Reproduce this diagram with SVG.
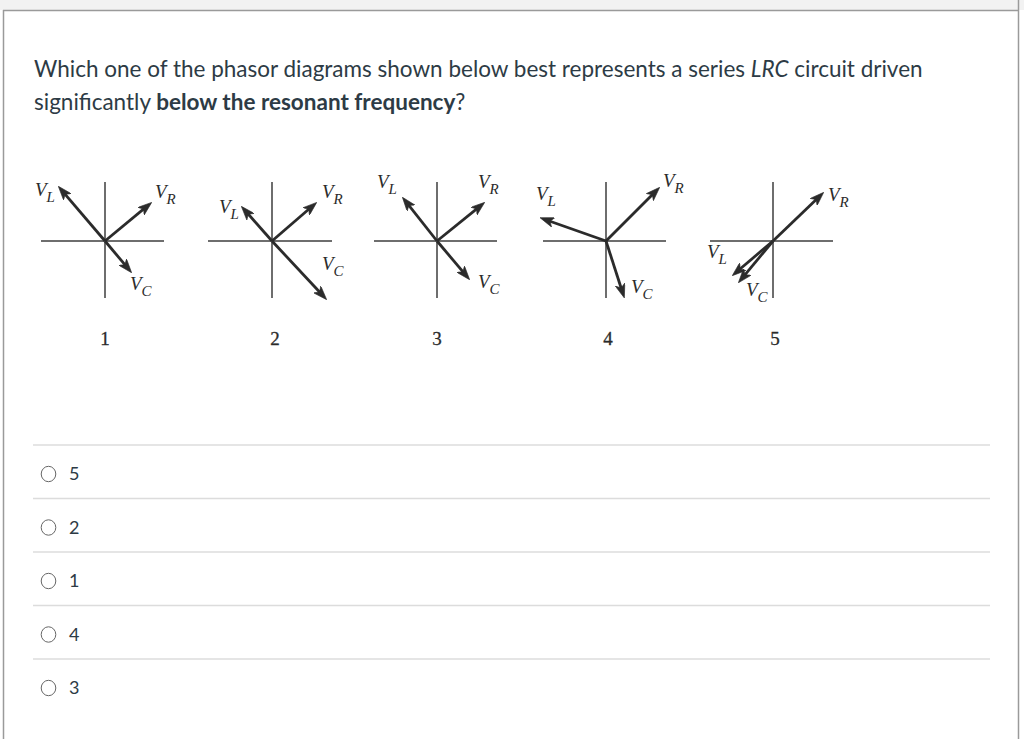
<svg xmlns="http://www.w3.org/2000/svg" width="1024" height="739" viewBox="0 0 1024 739">
<defs>
<marker id="ah" viewBox="0 0 14 10" markerWidth="14" markerHeight="10" markerUnits="userSpaceOnUse" refX="8" refY="5" orient="auto">
<path d="M0,0 L14,5 L0,10 L3.5,5 z" fill="#2b2b2b" stroke="#2b2b2b" stroke-width="0.6" stroke-linejoin="round"/>
</marker>
<style>
.q{font-family:Lato,"Open Sans",sans-serif;font-size:22.5px;fill:#2d3b45}
.opt{font-family:Lato,"Open Sans",sans-serif;font-size:18px;fill:#2d3b45}
.ax{stroke:#6e6e6e;stroke-width:2;fill:none}
.ar{stroke:#2b2b2b;stroke-width:2.8;fill:none;marker-end:url(#ah)}
.v{font-family:"Liberation Serif",serif;font-style:italic;font-size:19px;fill:#2b2b2b}
.sub{font-size:15px}
.num{font-family:"Liberation Serif",serif;font-size:19px;fill:#2b2b2b;text-anchor:middle;stroke:#2b2b2b;stroke-width:0.3}
.sep{stroke:#dcdcdc;stroke-width:1.5}
.rb{fill:#fff;stroke:#666;stroke-width:1}
</style>
</defs>
<rect x="0" y="0" width="1024" height="739" fill="#fff"/>
<rect x="0" y="0" width="1024" height="10" fill="#f2f2f2"/>
<line x1="3" y1="10.5" x2="1019" y2="10.5" stroke="#9a9a9a" stroke-width="1.5"/>
<line x1="3.5" y1="10" x2="3.5" y2="739" stroke="#9a9a9a" stroke-width="1.5"/>
<line x1="1018.5" y1="0" x2="1018.5" y2="739" stroke="#9a9a9a" stroke-width="1.5"/>

<g id="question">
<text class="q" x="34" y="77">Which one of the phasor diagrams shown below best represents a series <tspan font-style="italic">LRC</tspan> circuit driven</text>
<text class="q" x="34" y="110">significantly <tspan font-weight="bold">below the resonant frequency</tspan>?</text>
</g>

<g id="diagram1">
<line class="ax" x1="41" y1="241" x2="164" y2="241"/>
<line class="ax" x1="105" y1="182" x2="105" y2="298"/>
<text class="v" x="35" y="196">V<tspan class="sub" dy="6">L</tspan></text>
<text class="v" x="155" y="198">V<tspan class="sub" dy="6">R</tspan></text>
<text class="v" x="130" y="290">V<tspan class="sub" dy="6">C</tspan></text>
<text class="num" x="105" y="345">1</text>
</g>
<g id="diagram2">
<line class="ax" x1="208" y1="241" x2="332" y2="241"/>
<line class="ax" x1="272" y1="182" x2="272" y2="298"/>
<text class="v" x="219" y="213">V<tspan class="sub" dy="6">L</tspan></text>
<text class="v" x="322" y="198">V<tspan class="sub" dy="6">R</tspan></text>
<text class="v" x="322" y="270">V<tspan class="sub" dy="6">C</tspan></text>
<text class="num" x="275" y="345">2</text>
</g>
<g id="diagram3">
<line class="ax" x1="374" y1="241" x2="497" y2="241"/>
<line class="ax" x1="437" y1="182" x2="437" y2="298"/>
<text class="v" x="377" y="188">V<tspan class="sub" dy="6">L</tspan></text>
<text class="v" x="478" y="188">V<tspan class="sub" dy="6">R</tspan></text>
<text class="v" x="478" y="288">V<tspan class="sub" dy="6">C</tspan></text>
<text class="num" x="437" y="345">3</text>
</g>
<g id="diagram4">
<line class="ax" x1="543" y1="241" x2="666" y2="241"/>
<line class="ax" x1="606" y1="182" x2="606" y2="298"/>
<text class="v" x="536" y="200">V<tspan class="sub" dy="6">L</tspan></text>
<text class="v" x="663" y="187">V<tspan class="sub" dy="6">R</tspan></text>
<text class="v" x="631" y="293">V<tspan class="sub" dy="6">C</tspan></text>
<text class="num" x="608" y="345">4</text>
</g>
<g id="diagram5">
<line class="ax" x1="710" y1="241" x2="833" y2="241"/>
<line class="ax" x1="773" y1="182" x2="773" y2="298"/>
<text class="v" x="707" y="258">V<tspan class="sub" dy="6">L</tspan></text>
<text class="v" x="746" y="296">V<tspan class="sub" dy="6">C</tspan></text>
<text class="v" x="828" y="201">V<tspan class="sub" dy="6">R</tspan></text>
<text class="num" x="775" y="345">5</text>
</g>

<g id="connectors">
<line class="ar" x1="105" y1="241" x2="62.2" y2="190.8"/>
<line class="ar" x1="105" y1="241" x2="147.1" y2="206.2"/>
<line class="ar" x1="105" y1="241" x2="127.8" y2="268.2"/>
<line class="ar" x1="272" y1="241" x2="245.3" y2="210.8"/>
<line class="ar" x1="272" y1="241" x2="312.2" y2="206.3"/>
<line class="ar" x1="272" y1="241" x2="322.6" y2="295.3"/>
<line class="ar" x1="437" y1="241" x2="406.1" y2="201.9"/>
<line class="ar" x1="437" y1="241" x2="480.1" y2="206.1"/>
<line class="ar" x1="437" y1="241" x2="465.8" y2="275.2"/>
<line class="ar" x1="606" y1="241" x2="545.7" y2="219.7"/>
<line class="ar" x1="606" y1="241" x2="655.5" y2="191.5"/>
<line class="ar" x1="606" y1="241" x2="622.5" y2="292.2"/>
<line class="ar" x1="773" y1="241" x2="819.4" y2="196.5"/>
<line class="ar" x1="773" y1="241" x2="736.8" y2="271.8"/>
<line class="ar" x1="773" y1="241" x2="742.2" y2="278.2"/>
</g>

<g id="options">
<line class="sep" x1="33" y1="445" x2="990" y2="445"/>
<line class="sep" x1="33" y1="498.5" x2="990" y2="498.5"/>
<line class="sep" x1="33" y1="552" x2="990" y2="552"/>
<line class="sep" x1="33" y1="605.5" x2="990" y2="605.5"/>
<line class="sep" x1="33" y1="659" x2="990" y2="659"/>
<g id="opt5"><ellipse class="rb" cx="48.5" cy="474" rx="7.3" ry="7.7"/><text class="opt" x="69" y="480">5</text></g>
<g id="opt2"><ellipse class="rb" cx="48.5" cy="527.5" rx="7.3" ry="7.7"/><text class="opt" x="69" y="533.5">2</text></g>
<g id="opt1"><ellipse class="rb" cx="48.5" cy="581" rx="7.3" ry="7.7"/><text class="opt" x="69" y="587">1</text></g>
<g id="opt4"><ellipse class="rb" cx="48.5" cy="634.5" rx="7.3" ry="7.7"/><text class="opt" x="69" y="640.5">4</text></g>
<g id="opt3"><ellipse class="rb" cx="48.5" cy="688" rx="7.3" ry="7.7"/><text class="opt" x="69" y="694">3</text></g>
</g>
</svg>
